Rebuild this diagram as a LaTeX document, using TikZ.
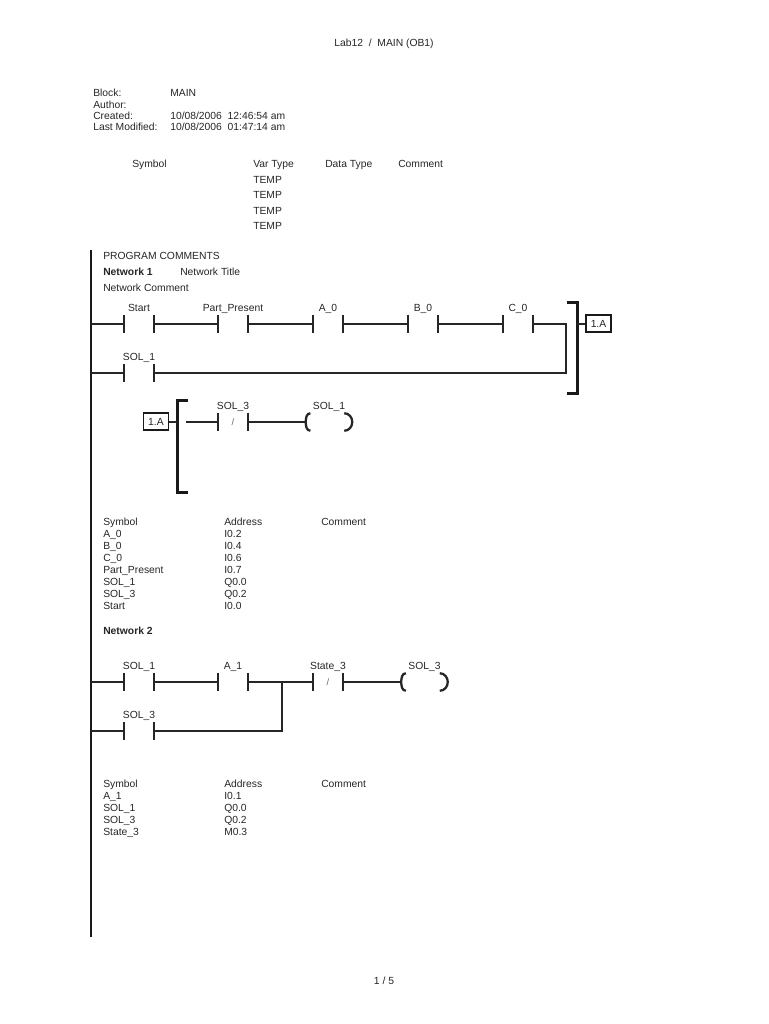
\documentclass[tikz,border=0pt]{standalone}
\usepackage{fontspec}
\setmainfont{Liberation Sans}
\begin{document}
\begin{tikzpicture}[
        x=0.75pt, y=-0.75pt,
        every node/.style = {font=\fontsize{7.75}{9}\selectfont, text=black!85},
        txt/.style = {anchor=base west, inner sep=0pt, align=left},
        tag/.style = {anchor=base, inner sep=0pt},
        wire/.style = {line width=1.5pt, black!85},
        rail/.style = {line width=1.9pt, black!90},
        bus/.style = {line width=2.25pt, black!90},
        contact/.style = {minimum width=22.5pt, minimum height=13.5pt, inner sep=0pt,
          font=\fontsize{7}{8}\selectfont, text=black!60,
          label={[inner sep=0pt, text height=5.7pt, text depth=0pt, yshift=12.4pt,
            font=\fontsize{7.75}{9}\selectfont, text=black!85]center:#1},
          append after command={\pgfextra{
            \draw[black!85, line width=1.3pt]
            (\tikzlastnode.north west) -- (\tikzlastnode.south west)
            (\tikzlastnode.north east) -- (\tikzlastnode.south east);}}},
        coil/.style = {minimum width=34.5pt, minimum height=12.75pt, inner sep=0pt,
          label={[inner sep=0pt, text height=5.7pt, text depth=0pt, yshift=12.4pt,
            font=\fontsize{7.75}{9}\selectfont, text=black!85]center:#1},
          append after command={\pgfextra{
            \draw[black!85, line width=1.7pt]
            ([xshift=3.5pt]\tikzlastnode.north west) to[out=180, in=90]
            (\tikzlastnode.west) to[out=-90, in=180]
            ([xshift=3.5pt]\tikzlastnode.south west)
            ([xshift=-6pt]\tikzlastnode.north east) to[out=0, in=90]
            (\tikzlastnode.east) to[out=-90, in=0]
            ([xshift=-6pt]\tikzlastnode.south east);}}},
        jump/.style = {draw=black!90, line width=1.2pt, minimum width=18.75pt,
          minimum height=12.75pt, inner sep=0pt}
        ]
        \useasboundingbox (0,0) rectangle (768,1024);
        % page head
        \node[tag] (title) at (384,47) {Lab12\ \ /\ \ MAIN (OB1)};
        \node[txt, font=\fontsize{7.75}{8.25}\selectfont] (blockkeys) at (93,130) {Block:\\Author:\\Created:\\Last Modified:};
        \node[txt, font=\fontsize{7.75}{8.25}\selectfont] (blockvals) at (170,130) {MAIN\\\\10/08/2006\ \ 12:46:54 am\\10/08/2006\ \ 01:47:14 am};
        \node[txt] (varsym) at (132,167.5) {Symbol};
        \node[txt] (vartype) at (253,167.5) {Var Type};
        \node[txt] (vardata) at (325,167.5) {Data Type};
        \node[txt] (varcom) at (398,167.5) {Comment};
        \node[txt] (temp1) at (253,183) {TEMP};
        \node[txt] (temp2) at (253,198.5) {TEMP};
        \node[txt] (temp3) at (253,214) {TEMP};
        \node[txt] (temp4) at (253,229.5) {TEMP};
        \node[tag] (pagenum) at (384,984) {1 / 5};
        % left rail
        \coordinate (railtop) at (91,250);
        \coordinate (railend) at (91,937);
        \draw[rail] (railtop) -- (railend);
        % network 1
        \node[txt] (progcom) at (103,259) {PROGRAM COMMENTS};
        \node[txt, font=\fontsize{7.75}{9}\bfseries\selectfont] (net1) at (103,275) {Network 1};
        \node[txt] (net1title) at (180,275) {Network Title};
        \node[txt] (net1com) at (103,291) {Network Comment};
        \node[contact=Start] (start) at (139,324) {};
        \node[contact=Part\_Present] (part) at (233,324) {};
        \node[contact=A\_0] (azero) at (328,324) {};
        \node[contact=B\_0] (bzero) at (423,324) {};
        \node[contact=C\_0] (czero) at (518,324) {};
        \node[contact=SOL\_1] (solone) at (139,373) {};
        \coordinate (join1) at (566,324);
        \draw[wire] (railtop |- start) -- (start.west);
        \draw[wire] (start.east) -- (part.west);
        \draw[wire] (part.east) -- (azero.west);
        \draw[wire] (azero.east) -- (bzero.west);
        \draw[wire] (bzero.east) -- (czero.west);
        \draw[wire] (czero.east) -- (join1) |- (solone.east);
        \draw[wire] (railtop |- solone) -- (solone.west);
        % jump out
        \coordinate (brk1top) at (577,302);
        \coordinate (brk1end) at (577,393);
        \node[jump] (jumpout) at (598.5,323.5) {1.A};
        \draw[bus] (567,302) -- (brk1top) -- (brk1end) -- (567,393);
        \draw[wire] (brk1top |- jumpout) -- (jumpout.west);
        % jump in
        \coordinate (brk2top) at (177,400);
        \coordinate (brk2end) at (177,492);
        \node[jump] (jumpin) at (156,421.5) {1.A};
        \draw[bus] (188,400) -- (brk2top) -- (brk2end) -- (188,492);
        \draw[wire] (jumpin.east) -- (brk2top |- jumpin);
        \coordinate (branch1) at (186,422);
        \node[contact=SOL\_3] (solthree) at (233,422) {/};
        \node[coil=SOL\_1] (coilone) at (329,422) {};
        \draw[wire] (branch1) -- (solthree.west);
        \draw[wire] (solthree.east) -- (coilone.west);
        % symbols of network 1
        \node[txt] (symone) at (103,609) {Symbol\\A\_0\\B\_0\\C\_0\\Part\_Present\\SOL\_1\\SOL\_3\\Start};
        \node[txt] (addrone) at (224,609) {Address\\I0.2\\I0.4\\I0.6\\I0.7\\Q0.0\\Q0.2\\I0.0};
        \node[txt] (comone) at (321,525) {Comment};
        % network 2
        \node[txt, font=\fontsize{7.75}{9}\bfseries\selectfont] (net2) at (103,634) {Network 2};
        \node[contact=SOL\_1] (soloneb) at (139,682) {};
        \node[contact=A\_1] (aone) at (233,682) {};
        \node[contact=State\_3] (state) at (328,682) {/};
        \node[coil=SOL\_3] (coilthree) at (424.5,682) {};
        \node[contact=SOL\_3] (solthreeb) at (139,731) {};
        \coordinate (join2) at (282,682);
        \draw[wire] (railtop |- soloneb) -- (soloneb.west);
        \draw[wire] (soloneb.east) -- (aone.west);
        \draw[wire] (aone.east) -- (state.west);
        \draw[wire] (state.east) -- (coilthree.west);
        \draw[wire] (railtop |- solthreeb) -- (solthreeb.west);
        \draw[wire] (solthreeb.east) -| (join2);
        % symbols of network 2
        \node[txt] (symtwo) at (103,835) {Symbol\\A\_1\\SOL\_1\\SOL\_3\\State\_3};
        \node[txt] (addrtwo) at (224,835) {Address\\I0.1\\Q0.0\\Q0.2\\M0.3};
        \node[txt] (comtwo) at (321,787) {Comment};
    \end{tikzpicture}
\end{document}
